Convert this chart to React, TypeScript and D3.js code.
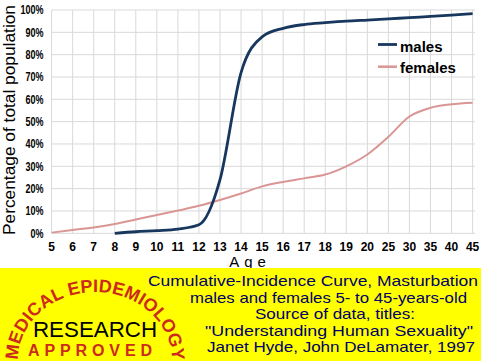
import * as d3 from "d3";

const ages = ["5", "6", "7", "8", "9", "10", "11", "12", "13", "14", "15", "16", "17", "18", "19", "20", "25", "30", "35", "40", "45"];
const maleAges = ["8", "9", "10", "11", "12", "13", "14", "15", "16", "17", "18", "19", "20", "25", "30", "35", "40", "45"];
const males = [0, 0.7, 1.2, 1.9, 3.8, 24, 72, 88, 91.8, 93.5, 94.3, 95, 95.5, 96, 96.6, 97.1, 97.7, 98.4];
const females = [0.3, 1.5, 2.6, 4.2, 6.2, 8.2, 10.2, 12.3, 14.9, 17.8, 21.0, 23.0, 24.6, 26.3, 30, 35.3, 43.2, 52.3, 56.2, 57.8, 58.5];
const yTicks = [0, 10, 20, 30, 40, 50, 60, 70, 80, 90, 100];
const captionLines = [
  { text: "Cumulative-Incidence Curve, Masturbation", x: 148, y: 286, w: 330 },
  { text: "males and females 5- to 45-years-old", x: 190, y: 303, w: 277 },
  { text: "Source of data, titles:", x: 255, y: 319, w: 160 },
  { text: "\"Understanding Human Sexuality\"", x: 205, y: 336, w: 268 },
  { text: "Janet Hyde, John DeLamater, 1997", x: 207, y: 352, w: 268 },
];

const FONT = "'Liberation Sans', Arial, sans-serif";

export default function App() {
  const x = d3.scalePoint<string>().domain(ages).range([51.6, 472.6]);
  const y = d3.scaleLinear().domain([0, 100]).range([233.3, 10]);
  const xEnd = 475;

  const line = d3
    .line<[string, number]>()
    .x((d) => x(d[0]) as number)
    .y((d) => y(d[1]))
    .curve(d3.curveMonotoneX);

  const malePath = line(maleAges.map((a, i) => [a, males[i]]));
  const femalePath = line(ages.map((a, i) => [a, females[i]]));

  // tick labels in the reference are set in a condensed face
  const tickWidth = (s: string) => (String(s).length * 6.67 + 10.67) * 0.75;

  return (
    <svg width={481} height={361} style={{ position: "absolute", left: 0, top: 0 }} fontFamily={FONT}>
      <rect width={481} height={361} fill="#ffffff" />
      {/* grid */}
      {yTicks.map((t) => (
        <line key={"h" + t} x1={x("5")} x2={xEnd} y1={y(t)} y2={y(t)} stroke="#d9d9d9" />
      ))}
      {ages.map((a) => (
        <line key={"v" + a} x1={x(a)} x2={x(a)} y1={y(100)} y2={y(0)} stroke="#d9d9d9" />
      ))}
      {/* y ticks */}
      {yTicks.map((t) => (
        <text
          key={"yt" + t}
          x={43.5 - tickWidth(String(t))}
          y={y(t)}
          dy="0.35em"
          fontSize={12}
          fontWeight="bold"
          textLength={tickWidth(String(t))}
          lengthAdjust="spacingAndGlyphs"
          fill="#000"
        >
          {t}%
        </text>
      ))}
      {ages.map((a) => (
        <text key={"xt" + a} x={x(a)} y={251} textAnchor="middle" fontSize={12} fontWeight="bold" fill="#000">
          {a}
        </text>
      ))}
      <text
        transform="translate(14.5,120) rotate(-90)"
        textAnchor="middle"
        fontSize={16}
        textLength={230}
        lengthAdjust="spacingAndGlyphs"
        fill="#000"
      >
        Percentage of total population
      </text>
      <text x={250} y={267} textAnchor="middle" fontSize={15} letterSpacing={5} fill="#000">
        Age
      </text>

      {/* series */}
      <path d={femalePath ?? ""} fill="none" stroke="#d99694" strokeWidth={2} />
      <path d={malePath ?? ""} fill="none" stroke="#17375e" strokeWidth={2.8} />

      {/* legend */}
      <line x1={378} x2={397} y1={44.5} y2={44.5} stroke="#17375e" strokeWidth={2.8} />
      <text x={400} y={51.5} fontSize={15} fontWeight="bold" fill="#000">males</text>
      <line x1={378} x2={397} y1={66.7} y2={66.7} stroke="#d99694" strokeWidth={2.5} />
      <text x={400} y={73.3} fontSize={15} fontWeight="bold" fill="#000">females</text>

      {/* caption band */}
      <rect x={0} y={268} width={481} height={93} fill="#ffff00" />
      {captionLines.map((l) => (
        <text key={l.text} x={l.x} y={l.y} fontSize={15} textLength={l.w} lengthAdjust="spacingAndGlyphs" fill="#000066">
          {l.text}
        </text>
      ))}

      {/* stamp */}
      <defs>
        <path id="stampArc" d="M 18,360 A 77,68 0 0 1 172,360" />
      </defs>
      <text fontSize={18} fontWeight="bold" fill="#cc2a1c">
        <textPath href="#stampArc" startOffset={0} textLength={228} lengthAdjust="spacing">
          MEDICAL EPIDEMIOLOGY
        </textPath>
      </text>
      <text x={33} y={336.5} fontSize={22.5} textLength={124} lengthAdjust="spacingAndGlyphs" fill="#000">
        RESEARCH
      </text>
      <text x={28} y={356} fontSize={16} fontWeight="bold" textLength={124} lengthAdjust="spacing" fill="#cc2a1c">
        APPROVED
      </text>
    </svg>
  );
}
